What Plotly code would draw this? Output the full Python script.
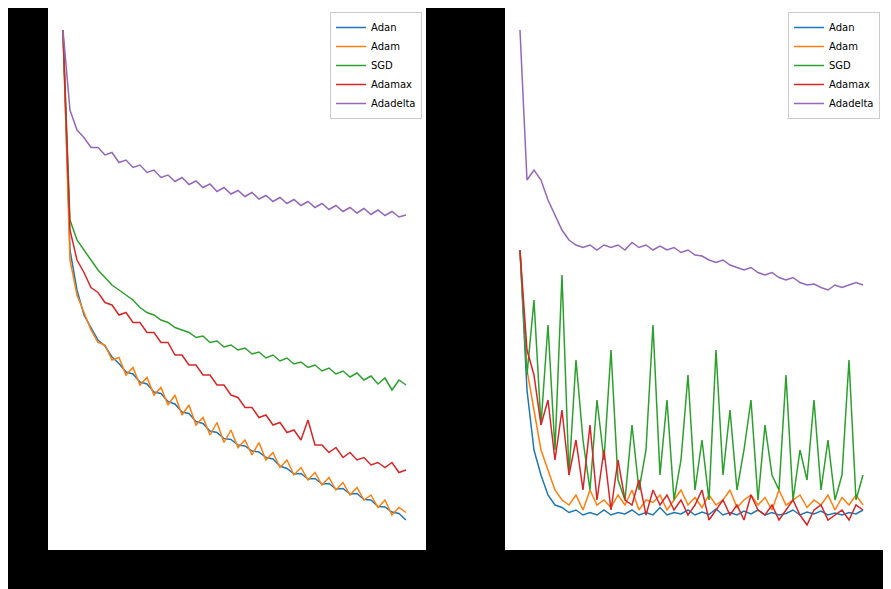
import plotly.graph_objects as go

# loss curves (arbitrary units, 50 epochs)
epochs = list(range(50))
names = ["Adan", "Adam", "SGD", "Adamax", "Adadelta"]
colors = ["#1f77b4", "#ff7f0e", "#2ca02c", "#d62728", "#9467bd"]

left_adan = [104, 60, 52, 47, 44.5, 42, 40.8, 38.6, 37.3, 35.6, 35.2, 33.6, 33.2, 31.6, 31.3, 29.7, 29.2, 27.6, 27.3, 25.7, 25.3, 23.8, 23.5, 22.3, 22.1, 21, 20.8, 19.8, 19.6, 18.5, 18.2, 16.8, 16.3, 15.2, 15.3, 14.2, 14.3, 13.2, 13.3, 12.2, 12.3, 11.2, 11.3, 10.1, 10, 8.7, 8.6, 7.6, 7.3, 6]
left_adam = [104, 58, 51, 47.5, 44, 41.5, 41, 38, 38.5, 35, 36.5, 33, 34.5, 31, 32.5, 29, 31, 27, 29, 25, 26.5, 23, 25.5, 21.5, 24, 20.5, 22, 19, 21.5, 18, 19.5, 16.5, 18, 15, 16.5, 14, 15.5, 13, 14.5, 12, 13.5, 11, 12.5, 10, 11, 8.5, 10, 7, 8.5, 7.5]
left_sgd = [104, 66, 62, 60, 58, 56, 54.5, 53, 52, 51, 50, 48.5, 47.5, 47, 46, 45.5, 44.5, 44, 43.5, 42.5, 42.8, 41.5, 41.8, 40.6, 41, 40, 40.4, 39.2, 39.6, 38.4, 39, 37.8, 38.4, 37.2, 37.6, 36.5, 37, 35.8, 36.4, 35.2, 35.8, 34.6, 35.4, 34, 34.8, 33.2, 34.4, 32, 34, 33]
left_adamax = [104, 64, 58, 55.5, 52.5, 51.5, 49.5, 49, 47, 47.5, 45.5, 45.5, 43.5, 43.5, 41.5, 41.5, 39, 39, 37, 37, 35, 35, 33, 33, 31, 30.5, 28.5, 28.5, 26.5, 27, 25, 25.5, 23.5, 24, 22, 26, 21, 21, 19.5, 20.5, 18.5, 19.5, 18, 18.5, 17, 17.5, 16.5, 17.5, 15.5, 16]
left_adadelta = [104, 88, 84, 82.5, 80.5, 80.5, 79, 79.5, 77.5, 78, 76.5, 77, 75.5, 76, 74.5, 75, 73.7, 74.5, 73.1, 73.8, 72.5, 73.2, 71.7, 72.5, 71.2, 71.9, 70.7, 71.5, 70.2, 70.9, 69.7, 70.5, 69.3, 70.1, 68.9, 69.7, 68.5, 69.3, 68.1, 68.9, 67.7, 68.5, 67.4, 68.3, 67.1, 68, 66.9, 67.7, 66.6, 67]

right_adan = [60, 32, 20, 15, 11, 9, 8.5, 7.5, 8, 7, 7.5, 7, 8, 7, 7.5, 7.2, 8, 7, 7.5, 7, 8.5, 7, 7.5, 7.2, 8, 7, 7.6, 7.1, 8.2, 7, 7.5, 7, 7.8, 7.2, 8, 7, 7.5, 7, 7.3, 8, 7, 7.6, 7.2, 7.8, 7, 7.4, 7, 7.5, 7.2, 8]
right_adam = [60, 36, 28, 20, 16, 12, 10, 9, 11, 8, 12, 9, 10, 8.5, 11, 9, 12, 8, 10, 9.5, 11, 8, 10, 12, 9, 10.5, 8.5, 11, 9, 10, 12, 8.5, 10, 11, 9, 10.5, 8, 12, 9, 10, 11, 8.5, 10, 9, 11, 8, 10.5, 9, 11, 9]
right_sgd = [60, 35, 50, 25, 45, 20, 55, 15, 38, 22, 12, 30, 18, 40, 14, 10, 25, 12, 20, 45, 15, 30, 10, 18, 35, 12, 22, 10, 40, 15, 28, 12, 20, 30, 10, 25, 15, 12, 35, 10, 20, 14, 30, 12, 22, 10, 15, 38, 10, 15]
right_adamax = [60, 40, 35, 25, 30, 18, 28, 15, 22, 12, 25, 10, 20, 8, 18, 10, 9, 14, 7, 12, 9, 11, 8, 10, 7, 9, 12, 6, 8, 10, 7, 9, 6, 11, 8, 7, 9, 6, 8, 10, 7, 5, 8, 9, 6, 7, 8, 6, 9, 8]
right_adadelta = [104, 74, 76, 74, 70, 67, 64, 62, 61, 60.5, 61, 60, 61, 60.5, 61, 60, 61.5, 60.5, 61, 60, 60.8, 60, 60.5, 59.5, 60, 59, 58.8, 58, 57.5, 58, 57, 56.5, 56, 56.5, 55.5, 55, 55.5, 54.5, 54, 54.5, 53.5, 53, 53.2, 52.5, 52, 53, 52.5, 53, 53.5, 53]

left_series = [left_adan, left_adam, left_sgd, left_adamax, left_adadelta]
right_series = [right_adan, right_adam, right_sgd, right_adamax, right_adadelta]

fig = go.Figure()
for name, color, ys in zip(names, colors, left_series):
    fig.add_trace(go.Scatter(x=epochs, y=ys, name=name, mode="lines",
                             line=dict(color=color, width=1.5),
                             xaxis="x", yaxis="y", legend="legend"))
for name, color, ys in zip(names, colors, right_series):
    fig.add_trace(go.Scatter(x=epochs, y=ys, name=name, mode="lines",
                             line=dict(color=color, width=1.5),
                             xaxis="x2", yaxis="y2", legend="legend2"))

# page has an 8px body margin, so the figure is drawn 8px smaller and offset
W, H, OFF = 883, 581, 8
ax = dict(showgrid=False, zeroline=False, showticklabels=False, ticks="")
legend_style = dict(bgcolor="white", bordercolor="#cccccc", borderwidth=1,
                    font=dict(family="DejaVu Sans", size=10, color="black"),
                    xanchor="right", yanchor="top", tracegroupgap=0, itemwidth=30)

fig.update_layout(
    width=W, height=H,
    paper_bgcolor="black", plot_bgcolor="white",
    margin=dict(l=0, r=0, t=0, b=0),
    xaxis=dict(domain=[(48 - OFF) / W, (426 - OFF) / W], range=[-2.14, 51.86], **ax),
    yaxis=dict(domain=[1 - (550 - OFF) / H, 1 - 0 / H], range=[0, 108.4], **ax),
    xaxis2=dict(domain=[(505 - OFF) / W, (884 - OFF) / W], range=[-2.14, 52], anchor="y2", **ax),
    yaxis2=dict(domain=[1 - (550 - OFF) / H, 1], range=[0, 108.4], anchor="x2", **ax),
    legend=dict(x=(422 - OFF) / W, y=1 - (12 - OFF) / H, **legend_style),
    legend2=dict(x=(880 - OFF) / W, y=1 - (12 - OFF) / H, **legend_style),
)

fig.write_html("out.html")
